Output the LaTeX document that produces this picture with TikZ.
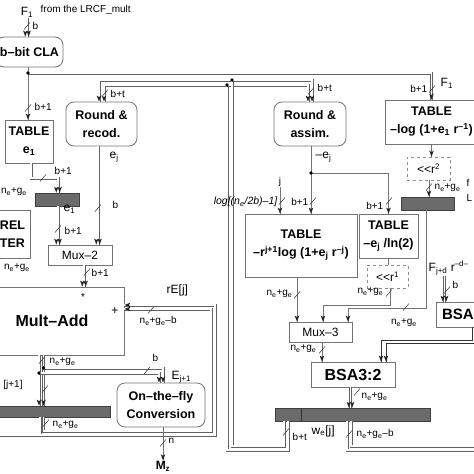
\documentclass[tikz,border=0pt]{standalone}
\usepackage{fontspec}
\setmainfont{Liberation Sans}
\usetikzlibrary{positioning,calc}

\tikzset{
  box/.style={draw=black!55, line width=0.8pt, inner sep=0pt, align=center, font=\bfseries\fontsize{12.5}{18}\selectfont},
  rbox/.style={box, rounded corners=8pt},
  dbox/.style={draw=black!45, dashed, line width=0.7pt, inner sep=0pt, font=\fontsize{12}{14}\selectfont},
  reg/.style={draw=black!75, fill=black!58, line width=0.6pt, inner sep=0pt},
  bus/.style={draw=black!62, double=white, line width=0.85pt, double distance=1.3pt},
  wire/.style={draw=black!55, line width=0.9pt},
  dwire/.style={draw=black!80, line width=0.9pt},
  lab/.style={inner sep=0.5pt, font=\fontsize{10}{11}\selectfont},
  big/.style={inner sep=0.5pt, font=\fontsize{12}{13}\selectfont},
  pics/tipa/.style={code={\fill[black!85] (0,0) -- (-2.3,-6) -- (0,-4.6) -- (2.3,-6) -- cycle;}},
  pics/tipb/.style={code={\fill[black!85] (-1.7,0) -- (-3.9,-6) -- (-1.7,-4.6) -- (0.5,-6) -- cycle;
      \fill[black!85] (1.7,0) -- (-0.5,-6) -- (1.7,-4.6) -- (3.9,-6) -- cycle;}},
  pics/sl/.style={code={\draw[black!80, line width=0.5pt] (-3,3.5) -- (3,-3.5);}},
}

\begin{document}
\begin{tikzpicture}[x=1pt,y=-1pt]
\useasboundingbox (0,0) rectangle (474,474);
\fill [white] (0,0) rectangle (474,474);
\clip (0,0) rectangle (474,474);

% blocks
\node [rbox, minimum width=67, minimum height=30] (cla) at (29.5,52) {b–bit CLA};
\node [box, minimum width=48, minimum height=43] (tabe) at (29,141.5) {TABLE\\e\textsubscript{1}};
\node [reg, minimum width=44, minimum height=13] (rga) at (57,199.5) {};
\node [box, minimum width=50, minimum height=48, text width=40, align=right] (bsh) at (5,234) {REL\\TER};
\node [box, font=\fontsize{12}{14}\selectfont, minimum width=64, minimum height=20] (mxa) at (80,255) {Mux–2};
\node [rbox, minimum width=71, minimum height=44] (rrc) at (101.5,124) {Round \&\\recod.};
\node [box, font=\bfseries\fontsize{16}{18}\selectfont, minimum width=144, minimum height=68] (mad) at (52,321) {Mult–Add};
\node [lab] (mst) at (83,297) {*};
\node [big] (mpl) at (115,311) {+};
\node [reg, minimum width=130, minimum height=11] (rgb) at (45,411.5) {};
\node [rbox, minimum width=88, minimum height=44] (otf) at (161,405) {On–the–fly\\Conversion};
\node [rbox, minimum width=72, minimum height=44] (ras) at (310,124) {Round \&\\assim.};
\node [box, minimum width=112, minimum height=63] (tbg) at (301,245.5) {TABLE\\–r\textsuperscript{j+1}log (1+e\textsubscript{j} r\textsuperscript{–j})};
\node [box, minimum width=59, minimum height=44] (tln) at (388.5,236) {TABLE\\–e\textsubscript{j} /ln(2)};
\node [dbox, minimum width=41, minimum height=23] (sha) at (387.5,276.5) {<{}<r\textsuperscript{1}};
\node [box, minimum width=93, minimum height=44] (tlg) at (431.5,122) {TABLE\\–log (1+e\textsubscript{1} r\textsuperscript{–1})};
\node [dbox, minimum width=43, minimum height=23] (shb) at (428.5,168.5) {<{}<r\textsuperscript{2}};
\node [reg, minimum width=53, minimum height=13] (rgc) at (427.5,203.5) {};
\node [box, font=\fontsize{12}{14}\selectfont, minimum width=63, minimum height=20] (mxb) at (320.5,332) {Mux–3};
\node [box, font=\bfseries\fontsize{16}{18}\selectfont, minimum width=84, minimum height=25] (bsa) at (353,374.5) {BSA3:2};
\node [box, font=\bfseries\fontsize{15}{18}\selectfont, minimum width=74, minimum height=25, text width=62, align=left] (bsb) at (473,314.5) {BSA};
\node [reg, minimum width=155, minimum height=13] (rgd) at (352.5,414.5) {};

% column and corner points
\coordinate (da) at (28,73);
\coordinate (ja) at (227,85);
\coordinate (jb) at (232,80);
\coordinate (jc) at (227,450);
\coordinate (jd) at (232,446);
\coordinate (jf) at (39,373);
\coordinate (jg) at (43.5,368);
\coordinate (jh) at (40,435);
\coordinate (ji) at (43.5,431);
\coordinate (jj) at (215,305);
\coordinate (jk) at (211,309);
\coordinate (jl) at (-5,435);
\coordinate (jm) at (311,173);
\coordinate (ea) at (480,450);
\coordinate (eb) at (480,446);
\coordinate (cea) at (31,178);
\coordinate (ceb) at (58,178);
\coordinate (cej) at (98,0);
\coordinate (cma) at (84,0);
\coordinate (cmb) at (390,305);
\coordinate (cmc) at (323,305);
\coordinate (cmd) at (429,0);
\coordinate (cme) at (426,308);
\coordinate (cmf) at (348,308);
\coordinate (cmg) at (322,0);
\coordinate (cmh) at (472,340);
\coordinate (cmi) at (381,340);
\coordinate (cmj) at (480,343);
\coordinate (cmk) at (386,343);
\coordinate (cmm) at (350.5,0);
\coordinate (cmn) at (301,0);
\coordinate (cmo) at (297,0);
\coordinate (cfj) at (444.5,0);

% top left
\node [big] (fa) at (27,12) {F\textsubscript{1}};
\node [lab, anchor=west] (fat) at (40,10) {from the LRCF\_mult};
\draw [bus] (fa.south) -- (fa.south |- cla.north);
\pic at (fa.south |- cla.north) {tipb};
\pic at (27,26) {sl};
\node [lab, anchor=west] at (32,26) {b};
\draw [wire] (cla.south -| da) -- (tabe.north -| da);
\pic at (tabe.north -| da) {tipa};
\pic at (28,108) {sl};
\node [lab, anchor=west] at (34,107) {b+1};
\draw [bus] (da) -| (tlg.north);
\pic at (tlg.north) {tipa};
\fill (da) circle (1.8pt);
\pic at (432,89) {sl};
\node [lab, anchor=east] at (428,89) {b+1};
\node [big, anchor=west] at (440,83) {F\textsubscript{1}};

% w[j] pair up to the rounding units
\draw [bus] ([xshift=2.5]rrc.north) |- (ja) -- (jc) -| ([xshift=-64.5]rgd.south);
\draw [bus] (ja) -| ([xshift=-2]ras.north);
\draw [bus] ([xshift=-2.5]rrc.north) |- (jb) -- (jd) -| ([xshift=-68.5]rgd.south);
\draw [bus] (jb) -| ([xshift=2]ras.north);
\fill (ja) circle (1.8pt);
\fill (jb) circle (1.8pt);
\pic at ([xshift=-2.5]rrc.north) {tipa};
\pic at ([xshift=2.5]rrc.north) {tipa};
\pic at ([xshift=-2]ras.north) {tipa};
\pic at ([xshift=2]ras.north) {tipa};
\pic at (105,93) {sl};
\node [lab, anchor=west] at (110,94) {b+t};
\pic at (311,91) {sl};
\node [lab, anchor=west] at (317,88) {b+t};

% left column
\draw [bus] (tabe.south -| cea) -- (cea) -- (ceb) -- (rga.north -| ceb);
\pic at (rga.north -| ceb) {tipb};
\pic at (43,178) {sl};
\node [lab, anchor=west] at (54,171) {b+1};
\node [lab] at (14,192) {n\textsubscript{e}+g\textsubscript{e}};
\draw [bus] (rga.south -| ceb) -- (mxa.north -| ceb);
\pic at (mxa.north -| ceb) {tipb};
\node [big, anchor=west] at (63,209) {e\textsubscript{1}};
\pic at (58,229) {sl};
\node [lab, anchor=west] at (64,231) {b+1};
\draw [bus] (rrc.south -| cej) -- (mxa.north -| cej);
\pic at (mxa.north -| cej) {tipb};
\node [big, anchor=west] at (109,157) {e\textsubscript{j}};
\pic at (98,208) {sl};
\node [lab, anchor=west] at (112,205) {b};
\node [lab] at (17,268) {n\textsubscript{e}+g\textsubscript{e}};
\draw [bus] (mxa.south -| cma) -- (mad.north -| cma);
\pic at (mad.north -| cma) {tipb};
\pic at (87,272) {sl};
\node [lab, anchor=west] at (91,273) {b+1};

% Mult-Add output and feedback
\draw [bus] (mad.south -| jf) -- (rgb.north -| jf);
\draw [bus] (mad.south -| jg) -- (rgb.north -| jg);
\pic at (rgb.north -| jf) {tipa};
\pic at (rgb.north -| jg) {tipa};
\pic at (42,360) {sl};
\node [lab, anchor=west] at (49,362) {n\textsubscript{e}+g\textsubscript{e}};
\pic at (45,389) {sl};
\node [lab] at (13,385) {[j+1]};
\draw [bus] (jg) -| ([xshift=2]otf.north);
\draw [bus] (jf) -| ([xshift=-2]otf.north);
\fill (jf) circle (1.8pt);
\fill (jg) circle (1.8pt);
\pic at ([xshift=2]otf.north) {tipa};
\pic at ([xshift=-2]otf.north) {tipa};
\pic at (147,370.5) {sl};
\node [lab, anchor=west] at (152,358) {b};
\node [big, anchor=west] at (171,377) {E\textsubscript{j+1}};
\draw [bus] (jl) -- (jh);
\draw [bus] (rgb.south -| jh) -- (jh) -| (jj) -- (mad.east |- jj);
\draw [bus] (rgb.south -| ji) -- (ji) -| (jk) -- (mad.east |- jk);
\pic [rotate=-90] at (mad.east |- jj) {tipa};
\pic [rotate=-90] at (mad.east |- jk) {tipa};
\pic at (151,310) {sl};
\node [lab, anchor=west] at (139,321) {n\textsubscript{e}+g\textsubscript{e}–b};
\node [big, anchor=west] at (166,290) {rE[j]};
\pic at (46,423) {sl};
\node [lab, anchor=west] at (52,425) {n\textsubscript{e}+g\textsubscript{e}};
\node [big, font=\bfseries\fontsize{12}{13}\selectfont] (mzt) at (163,466) {M\textsubscript{z}};
\draw [wire] (otf.south -| mzt) -- (mzt.north);
\pic at (mzt.north) {tipa};
\pic at (163,443) {sl};
\node [lab, anchor=west] at (168,441) {n};

% right part
\draw [wire] (ras.south -| jm) -- (tbg.north -| jm);
\pic at (tbg.north -| jm) {tipa};
\draw [wire] (jm) -| (tln.north);
\pic at (tln.north) {tipa};
\fill (jm) circle (1.8pt);
\node [big, anchor=west] at (315,157) {–e\textsubscript{j}};
\pic at (313,201) {sl};
\node [lab, anchor=east] at (309,202) {b+1};
\pic at (389,201) {sl};
\node [lab, anchor=east] at (384,206) {b+1};
\node [lab] (jin) at (280,182) {j};
\draw [wire] (jin) -- (tbg.north -| jin);
\pic at (tbg.north -| jin) {tipa};
\pic at (282,201) {sl};
\node [lab, anchor=east, font=\itshape\fontsize{10.5}{11}\selectfont] at (278,202) {log[(n\textsubscript{e}/2b)–1]};
\draw [wire] (tbg.south -| cmo) -- (mxb.north -| cmo);
\pic at (mxb.north -| cmo) {tipa};
\pic at (297,295) {sl};
\node [lab, anchor=east] at (293,294) {n\textsubscript{e}+g\textsubscript{e}};
\draw [wire] (tln.south) -- (tln.south |- sha.north);
\draw [wire] (sha.south -| cmb) |- (cmc) -- (mxb.north -| cmc);
\pic at (mxb.north -| cmc) {tipa};
\pic at (389,293) {sl};
\node [lab, anchor=east] at (384,292) {n\textsubscript{e}+g\textsubscript{e}};
\draw [wire] (tlg.south) -- (tlg.south |- shb.north);
\pic at (tlg.south |- shb.north) {tipa};
\draw [wire] (shb.south -| cmd) -- (rgc.north -| cmd);
\pic at (rgc.north -| cmd) {tipa};
\pic at (429,187) {sl};
\node [lab, anchor=west] at (434,188) {n\textsubscript{e}+g\textsubscript{e}};
\node [lab, anchor=west] at (466,183) {f};
\node [lab, anchor=west] at (466,198) {L};
\draw [wire] (rgc.south -| cme) |- (cmf) -- (mxb.north -| cmf);
\pic at (mxb.north -| cmf) {tipa};
\pic at (406,307) {sl};
\node [lab] at (404,323) {n\textsubscript{e}+g\textsubscript{e}};
\draw [wire] (mxb.south -| cmg) -- (bsa.north -| cmg);
\pic at (bsa.north -| cmg) {tipa};
\pic at (322,350) {sl};
\node [lab, anchor=east] at (317,349) {n\textsubscript{e}+g\textsubscript{e}};
\node [big, anchor=west] (fjd) at (428,268) {F\textsubscript{j+d} r\textsuperscript{–d–}};
\draw [bus] (fjd.south -| cfj) -- (bsb.north -| cfj);
\pic at (bsb.north -| cfj) {tipb};
\pic at (447,290) {sl};
\node [lab, anchor=west] at (452,285) {b};
\draw [dwire] (bsb.south -| cmh) |- (cmi) -- (bsa.north -| cmi);
\draw [dwire] (cmj) -- (cmk) -- (bsa.north -| cmk);
\pic at (bsa.north -| cmi) {tipa};
\pic at (bsa.north -| cmk) {tipa};
\draw [bus] (bsa.south -| cmm) -- (rgd.north -| cmm);
\pic at (rgd.north -| cmm) {tipb};
\pic at (357,392) {sl};
\node [lab, anchor=west] at (361,397) {n\textsubscript{e}+g\textsubscript{e}};
\draw [black!80, line width=0.8pt] (rgd.north -| cmn) -- (rgd.south -| cmn);

% bottom right outputs
\draw [bus] ([xshift=-5.5]rgd.south) |- (ea);
\draw [bus] ([xshift=-1.5]rgd.south) |- (eb);
\pic at (286,432) {sl};
\node [lab, anchor=west] at (292,437) {b+t};
\node [big, anchor=west] at (311,431) {w\textsubscript{e}[j]};
\pic at (349,434) {sl};
\node [lab, anchor=west] at (356,434) {n\textsubscript{e}+g\textsubscript{e}–b};
\end{tikzpicture}
\end{document}
